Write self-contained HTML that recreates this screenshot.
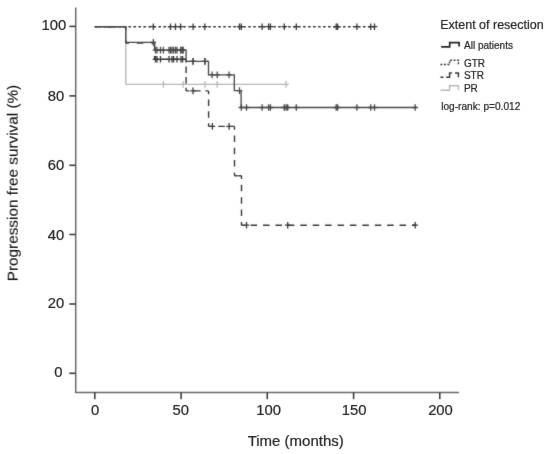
<!DOCTYPE html>
<html><head><meta charset="utf-8"><style>
html,body{margin:0;padding:0;background:#fff;}
body{width:550px;height:454px;overflow:hidden;position:relative;}
svg{position:absolute;left:0;top:0;}
text{font-family:"Liberation Sans",Arial,sans-serif;fill:#222;stroke:#222;stroke-width:0.2px;}
</style></head><body>
<svg width="550" height="454" viewBox="0 0 550 454">
<defs><filter id="bl" x="-5%" y="-5%" width="110%" height="110%" color-interpolation-filters="sRGB"><feConvolveMatrix order="3" kernelMatrix="0.0183 0.1353 0.0183 0.1353 1.0000 0.1353 0.0183 0.1353 0.0183" edgeMode="duplicate" preserveAlpha="false"/></filter><filter id="bt" x="-5%" y="-5%" width="110%" height="110%" color-interpolation-filters="sRGB"><feConvolveMatrix order="3" kernelMatrix="0.0019 0.0439 0.0019 0.0439 1.0000 0.0439 0.0019 0.0439 0.0019" edgeMode="duplicate" preserveAlpha="false"/></filter></defs>
<rect width="550" height="454" fill="#fff"/>
<g filter="url(#bl)">
<path d="M75.7 7.5V392.6H459" stroke="#6a6a6a" stroke-width="1.5" fill="none"/>
<path d="M69.3 26.4H75.7" stroke="#333" stroke-width="1.5"/>
<path d="M69.3 95.9H75.7" stroke="#333" stroke-width="1.5"/>
<path d="M69.3 165.3H75.7" stroke="#333" stroke-width="1.5"/>
<path d="M69.3 234.5H75.7" stroke="#333" stroke-width="1.5"/>
<path d="M69.3 304H75.7" stroke="#333" stroke-width="1.5"/>
<path d="M69.3 373.3H75.7" stroke="#333" stroke-width="1.5"/>
<path d="M94.8 392.5V399.2" stroke="#333" stroke-width="1.5"/>
<path d="M181.1 392.5V399.2" stroke="#333" stroke-width="1.5"/>
<path d="M267.3 392.5V399.2" stroke="#333" stroke-width="1.5"/>
<path d="M353.6 392.5V399.2" stroke="#333" stroke-width="1.5"/>
<path d="M439.8 392.5V399.2" stroke="#333" stroke-width="1.5"/>
<path d="M94.8 26.7H125.8V84.4H286.1" stroke="#b8b8b8" stroke-width="1.4" fill="none"/>
<path d="M163.4 81.1V87.7M160.6 84.4H166.2" stroke="#b8b8b8" stroke-width="1.3" fill="none"/>
<path d="M183.2 81.1V87.7M180.4 84.4H186.0" stroke="#b8b8b8" stroke-width="1.3" fill="none"/>
<path d="M205.0 81.1V87.7M202.2 84.4H207.8" stroke="#b8b8b8" stroke-width="1.3" fill="none"/>
<path d="M217.2 81.1V87.7M214.4 84.4H220.0" stroke="#b8b8b8" stroke-width="1.3" fill="none"/>
<path d="M286.1 81.1V87.7M283.3 84.4H288.9" stroke="#b8b8b8" stroke-width="1.3" fill="none"/>
<path d="M94.80 26.70L374.50 26.70" stroke="#383838" stroke-width="1.5" stroke-dasharray="2.60 2.39" stroke-dashoffset="1.30" fill="none"/>
<path d="M153.3 23.4V30.0M150.5 26.7H156.1" stroke="#383838" stroke-width="1.3" fill="none"/>
<path d="M170.5 23.4V30.0M167.7 26.7H173.3" stroke="#383838" stroke-width="1.3" fill="none"/>
<path d="M175.5 23.4V30.0M172.7 26.7H178.3" stroke="#383838" stroke-width="1.3" fill="none"/>
<path d="M180.6 23.4V30.0M177.8 26.7H183.4" stroke="#383838" stroke-width="1.3" fill="none"/>
<path d="M193.1 23.4V30.0M190.3 26.7H195.9" stroke="#383838" stroke-width="1.3" fill="none"/>
<path d="M204.8 23.4V30.0M202.0 26.7H207.6" stroke="#383838" stroke-width="1.3" fill="none"/>
<path d="M239.5 23.4V30.0M236.7 26.7H242.3" stroke="#383838" stroke-width="1.3" fill="none"/>
<path d="M241.3 23.4V30.0M238.5 26.7H244.1" stroke="#383838" stroke-width="1.3" fill="none"/>
<path d="M262.1 23.4V30.0M259.3 26.7H264.9" stroke="#383838" stroke-width="1.3" fill="none"/>
<path d="M268.6 23.4V30.0M265.8 26.7H271.4" stroke="#383838" stroke-width="1.3" fill="none"/>
<path d="M270.4 23.4V30.0M267.6 26.7H273.2" stroke="#383838" stroke-width="1.3" fill="none"/>
<path d="M284.3 23.4V30.0M281.5 26.7H287.1" stroke="#383838" stroke-width="1.3" fill="none"/>
<path d="M296.3 23.4V30.0M293.5 26.7H299.1" stroke="#383838" stroke-width="1.3" fill="none"/>
<path d="M336.2 23.4V30.0M333.4 26.7H339.0" stroke="#383838" stroke-width="1.3" fill="none"/>
<path d="M337.6 23.4V30.0M334.8 26.7H340.4" stroke="#383838" stroke-width="1.3" fill="none"/>
<path d="M356.9 23.4V30.0M354.1 26.7H359.7" stroke="#383838" stroke-width="1.3" fill="none"/>
<path d="M370.7 23.4V30.0M367.9 26.7H373.5" stroke="#383838" stroke-width="1.3" fill="none"/>
<path d="M374.5 23.4V30.0M371.7 26.7H377.3" stroke="#383838" stroke-width="1.3" fill="none"/>
<path d="M94.80 26.70L125.80 26.70" stroke="#383838" stroke-width="1.4" stroke-dasharray="6.50 9.00" stroke-dashoffset="3.25" fill="none"/>
<path d="M125.80 26.70L125.80 43.10" stroke="#383838" stroke-width="1.4" stroke-dasharray="6.50 9.90" stroke-dashoffset="3.25" fill="none"/>
<path d="M125.80 43.10L154.50 43.10" stroke="#383838" stroke-width="1.4" stroke-dasharray="6.50 7.85" stroke-dashoffset="3.25" fill="none"/>
<path d="M154.50 43.10L154.50 59.30" stroke="#383838" stroke-width="1.4" stroke-dasharray="6.50 9.70" stroke-dashoffset="3.25" fill="none"/>
<path d="M154.50 59.30L186.10 59.30" stroke="#383838" stroke-width="1.4" stroke-dasharray="6.50 4.03" stroke-dashoffset="3.25" fill="none"/>
<path d="M186.10 59.30L186.10 90.90" stroke="#383838" stroke-width="1.4" stroke-dasharray="6.50 4.03" stroke-dashoffset="3.25" fill="none"/>
<path d="M186.10 90.90L208.60 90.90" stroke="#383838" stroke-width="1.4" stroke-dasharray="6.50 4.75" stroke-dashoffset="3.25" fill="none"/>
<path d="M208.60 90.90L208.60 126.40" stroke="#383838" stroke-width="1.4" stroke-dasharray="6.50 5.33" stroke-dashoffset="3.25" fill="none"/>
<path d="M208.60 126.40L234.50 126.40" stroke="#383838" stroke-width="1.4" stroke-dasharray="6.50 6.45" stroke-dashoffset="3.25" fill="none"/>
<path d="M234.50 126.40L234.50 175.70" stroke="#383838" stroke-width="1.4" stroke-dasharray="6.50 5.82" stroke-dashoffset="3.25" fill="none"/>
<path d="M234.50 175.70L241.50 175.70" stroke="#383838" stroke-width="1.4" stroke-dasharray="6.50 0.50" stroke-dashoffset="3.25" fill="none"/>
<path d="M241.50 175.70L241.50 225.20" stroke="#383838" stroke-width="1.4" stroke-dasharray="6.50 5.88" stroke-dashoffset="3.25" fill="none"/>
<path d="M241.50 225.20L415.20 225.20" stroke="#383838" stroke-width="1.4" stroke-dasharray="6.50 5.91" stroke-dashoffset="3.25" fill="none"/>
<path d="M155.5 56.0V62.6M152.7 59.3H158.3" stroke="#383838" stroke-width="1.3" fill="none"/>
<path d="M157.0 56.0V62.6M154.2 59.3H159.8" stroke="#383838" stroke-width="1.3" fill="none"/>
<path d="M160.5 56.0V62.6M157.7 59.3H163.3" stroke="#383838" stroke-width="1.3" fill="none"/>
<path d="M169.0 56.0V62.6M166.2 59.3H171.8" stroke="#383838" stroke-width="1.3" fill="none"/>
<path d="M172.0 56.0V62.6M169.2 59.3H174.8" stroke="#383838" stroke-width="1.3" fill="none"/>
<path d="M173.6 56.0V62.6M170.8 59.3H176.4" stroke="#383838" stroke-width="1.3" fill="none"/>
<path d="M177.0 56.0V62.6M174.2 59.3H179.8" stroke="#383838" stroke-width="1.3" fill="none"/>
<path d="M181.0 56.0V62.6M178.2 59.3H183.8" stroke="#383838" stroke-width="1.3" fill="none"/>
<path d="M182.6 56.0V62.6M179.8 59.3H185.4" stroke="#383838" stroke-width="1.3" fill="none"/>
<path d="M193.0 87.6V94.2M190.2 90.9H195.8" stroke="#383838" stroke-width="1.3" fill="none"/>
<path d="M212.4 123.1V129.7M209.6 126.4H215.2" stroke="#383838" stroke-width="1.3" fill="none"/>
<path d="M229.1 123.1V129.7M226.3 126.4H231.9" stroke="#383838" stroke-width="1.3" fill="none"/>
<path d="M246.5 221.9V228.5M243.7 225.2H249.3" stroke="#383838" stroke-width="1.3" fill="none"/>
<path d="M287.7 221.9V228.5M284.9 225.2H290.5" stroke="#383838" stroke-width="1.3" fill="none"/>
<path d="M415.2 221.9V228.5M412.4 225.2H418.0" stroke="#383838" stroke-width="1.3" fill="none"/>
<path d="M94.8 26.7H125.8V42.4H154.5V50.1H186.1V61.4H208.5V74.9H234.3V90.6H241.1V107.5H415.2" stroke="#4a4a4a" stroke-width="1.35" fill="none"/>
<path d="M153.3 39.1V45.7M150.5 42.4H156.1" stroke="#4a4a4a" stroke-width="1.3" fill="none"/>
<path d="M155.5 46.8V53.4M152.7 50.1H158.3" stroke="#4a4a4a" stroke-width="1.3" fill="none"/>
<path d="M157.0 46.8V53.4M154.2 50.1H159.8" stroke="#4a4a4a" stroke-width="1.3" fill="none"/>
<path d="M160.5 46.8V53.4M157.7 50.1H163.3" stroke="#4a4a4a" stroke-width="1.3" fill="none"/>
<path d="M169.0 46.8V53.4M166.2 50.1H171.8" stroke="#4a4a4a" stroke-width="1.3" fill="none"/>
<path d="M172.0 46.8V53.4M169.2 50.1H174.8" stroke="#4a4a4a" stroke-width="1.3" fill="none"/>
<path d="M173.6 46.8V53.4M170.8 50.1H176.4" stroke="#4a4a4a" stroke-width="1.3" fill="none"/>
<path d="M177.0 46.8V53.4M174.2 50.1H179.8" stroke="#4a4a4a" stroke-width="1.3" fill="none"/>
<path d="M181.0 46.8V53.4M178.2 50.1H183.8" stroke="#4a4a4a" stroke-width="1.3" fill="none"/>
<path d="M182.6 46.8V53.4M179.8 50.1H185.4" stroke="#4a4a4a" stroke-width="1.3" fill="none"/>
<path d="M170.5 46.8V53.4M167.7 50.1H173.3" stroke="#4a4a4a" stroke-width="1.3" fill="none"/>
<path d="M175.5 46.8V53.4M172.7 50.1H178.3" stroke="#4a4a4a" stroke-width="1.3" fill="none"/>
<path d="M180.6 46.8V53.4M177.8 50.1H183.4" stroke="#4a4a4a" stroke-width="1.3" fill="none"/>
<path d="M163.4 46.8V53.4M160.6 50.1H166.2" stroke="#4a4a4a" stroke-width="1.3" fill="none"/>
<path d="M183.2 46.8V53.4M180.4 50.1H186.0" stroke="#4a4a4a" stroke-width="1.3" fill="none"/>
<path d="M193.0 58.1V64.7M190.2 61.4H195.8" stroke="#4a4a4a" stroke-width="1.3" fill="none"/>
<path d="M193.1 58.1V64.7M190.3 61.4H195.9" stroke="#4a4a4a" stroke-width="1.3" fill="none"/>
<path d="M205.0 58.1V64.7M202.2 61.4H207.8" stroke="#4a4a4a" stroke-width="1.3" fill="none"/>
<path d="M204.8 58.1V64.7M202.0 61.4H207.6" stroke="#4a4a4a" stroke-width="1.3" fill="none"/>
<path d="M212.1 71.6V78.2M209.3 74.9H214.9" stroke="#4a4a4a" stroke-width="1.3" fill="none"/>
<path d="M217.2 71.6V78.2M214.4 74.9H220.0" stroke="#4a4a4a" stroke-width="1.3" fill="none"/>
<path d="M229.1 71.6V78.2M226.3 74.9H231.9" stroke="#4a4a4a" stroke-width="1.3" fill="none"/>
<path d="M239.5 87.3V93.9M236.7 90.6H242.3" stroke="#4a4a4a" stroke-width="1.3" fill="none"/>
<path d="M241.3 104.2V110.8M238.5 107.5H244.1" stroke="#4a4a4a" stroke-width="1.3" fill="none"/>
<path d="M246.5 104.2V110.8M243.7 107.5H249.3" stroke="#4a4a4a" stroke-width="1.3" fill="none"/>
<path d="M262.1 104.2V110.8M259.3 107.5H264.9" stroke="#4a4a4a" stroke-width="1.3" fill="none"/>
<path d="M268.6 104.2V110.8M265.8 107.5H271.4" stroke="#4a4a4a" stroke-width="1.3" fill="none"/>
<path d="M270.4 104.2V110.8M267.6 107.5H273.2" stroke="#4a4a4a" stroke-width="1.3" fill="none"/>
<path d="M284.3 104.2V110.8M281.5 107.5H287.1" stroke="#4a4a4a" stroke-width="1.3" fill="none"/>
<path d="M286.1 104.2V110.8M283.3 107.5H288.9" stroke="#4a4a4a" stroke-width="1.3" fill="none"/>
<path d="M287.7 104.2V110.8M284.9 107.5H290.5" stroke="#4a4a4a" stroke-width="1.3" fill="none"/>
<path d="M296.3 104.2V110.8M293.5 107.5H299.1" stroke="#4a4a4a" stroke-width="1.3" fill="none"/>
<path d="M336.2 104.2V110.8M333.4 107.5H339.0" stroke="#4a4a4a" stroke-width="1.3" fill="none"/>
<path d="M337.6 104.2V110.8M334.8 107.5H340.4" stroke="#4a4a4a" stroke-width="1.3" fill="none"/>
<path d="M356.9 104.2V110.8M354.1 107.5H359.7" stroke="#4a4a4a" stroke-width="1.3" fill="none"/>
<path d="M370.7 104.2V110.8M367.9 107.5H373.5" stroke="#4a4a4a" stroke-width="1.3" fill="none"/>
<path d="M374.5 104.2V110.8M371.7 107.5H377.3" stroke="#4a4a4a" stroke-width="1.3" fill="none"/>
<path d="M415.2 104.2V110.8M412.4 107.5H418.0" stroke="#4a4a4a" stroke-width="1.3" fill="none"/>
<path d="M441.1 46.9H449.7V42.6H459.1V46.5" stroke="#222" stroke-width="1.7" fill="none"/>
<path d="M440.4 64.6H449.6V60.2H458.4V64.6" stroke="#383838" stroke-width="1.5" stroke-dasharray="2 1.5" fill="none"/>
<path d="M440.4 77.2H443.5M446.1 77.2H449.6V72.9H451.9M455 72.9H458.4V77.2" stroke="#383838" stroke-width="1.5" fill="none"/>
<path d="M440.4 90.2H449.6V85.8H458.4V90.2" stroke="#b8b8b8" stroke-width="1.4" fill="none"/>
</g>
<g filter="url(#bt)">
<g font-size="14.8" text-anchor="end">
<text x="66.2" y="30.3">100</text>
<text x="64.2" y="100.9">80</text>
<text x="64.2" y="170.3">60</text>
<text x="64.2" y="239.9">40</text>
<text x="64.2" y="307.9">20</text>
<text x="62.4" y="376.8">0</text>
</g>
<g font-size="14.8" text-anchor="middle">
<text x="95.2" y="415">0</text>
<text x="180.7" y="415">50</text>
<text x="268.6" y="415">100</text>
<text x="354.2" y="415">150</text>
<text x="440.5" y="415">200</text>
</g>
<text x="295.7" y="446.2" font-size="15" text-anchor="middle">Time (months)</text>
<text transform="translate(17.7 183) rotate(-90)" font-size="15.3" text-anchor="middle">Progression free survival (%)</text>
<text x="440.2" y="29.3" font-size="12.5">Extent of resection</text>
<g font-size="10">
<text x="464.0" y="48.6">All patients</text>
<text x="463.9" y="66.7">GTR</text>
<text x="463.9" y="78.5">STR</text>
<text x="463.9" y="91.7">PR</text>
<text x="441.2" y="109.8" font-size="10.15">log-rank: p=0.012</text>
</g>
</g>
</svg>
</body></html>
